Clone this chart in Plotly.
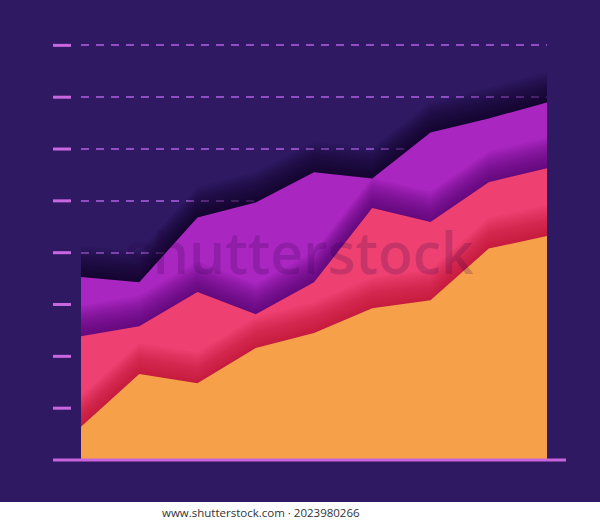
import plotly.graph_objects as go

# ---- data ----
x_points = [0, 1, 2, 3, 4, 5, 6, 7, 8]
orange_vals = [0.64, 1.66, 1.48, 2.16, 2.45, 2.93, 3.08, 4.08, 4.32]
red_vals = [1.75, 0.92, 1.76, 0.65, 0.98, 1.93, 1.51, 1.28, 1.31]
purple_vals = [1.14, 0.85, 1.44, 2.16, 2.12, 0.57, 1.73, 1.23, 1.27]
tick_levels = [1, 2, 3, 4, 5, 6, 7, 8]

BG = "#2f1963"
ORANGE = "#f6a04a"
RED = "#ee4171"
PURPLE = "#aa26c1"
GRID = "#8f4fc3"
TICK = "#c967df"

orange_top = orange_vals
red_top = [o + r for o, r in zip(orange_vals, red_vals)]
purple_top = [t + p for t, p in zip(red_top, purple_vals)]

# layout geometry (pixels)
L, R, T, B = 81, 53, 35, 62
W, H = 600, 522
YMAX = 8.2
PW = W - L - R
PH = H - T - B


def px_x(px):
    return (px - L) / PW


def px_y(py):
    return (H - B - py) / PH


fig = go.Figure()


def add_shadow(top, rgb, steps=14, step=0.042, alpha=0.07):
    for k in range(steps, 0, -1):
        fig.add_trace(go.Scatter(
            x=x_points, y=[v + k * step for v in top], mode="lines",
            line=dict(width=0), fill="tozeroy",
            fillcolor=f"rgba({rgb},{alpha})", hoverinfo="skip", showlegend=False))


def add_layer(top, color):
    fig.add_trace(go.Scatter(
        x=x_points, y=top, mode="lines", line=dict(width=0, color=color),
        fill="tozeroy", fillcolor=color, hoverinfo="skip", showlegend=False))


add_shadow(purple_top, "10,3,30")
add_layer(purple_top, PURPLE)
add_shadow(red_top, "70,0,105")
add_layer(red_top, RED)
add_shadow(orange_top, "185,10,40")
add_layer(orange_top, ORANGE)

shapes = []
for lv in tick_levels:
    shapes.append(dict(type="line", xref="paper", yref="paper",
                       x0=px_x(53), x1=px_x(71), y0=lv / YMAX, y1=lv / YMAX,
                       line=dict(color=TICK, width=3)))
shapes.append(dict(type="line", xref="paper", yref="paper",
                   x0=px_x(53), x1=px_x(566), y0=0, y1=0,
                   line=dict(color="#c764dc", width=3)))
shapes.append(dict(type="rect", xref="paper", yref="paper",
                   x0=-0.3, x1=1.3, y0=px_y(530), y1=px_y(502),
                   fillcolor="white", line=dict(width=0), layer="above"))

annotations = [
    dict(text="www.shutterstock.com · 2023980266", xref="paper", yref="paper",
         x=px_x(261), y=px_y(512), xanchor="center", yanchor="middle",
         showarrow=False, font=dict(family="Open Sans", size=11.5, color="#333333")),
    dict(text="shutterstock", xref="paper", yref="paper",
         x=px_x(299), y=px_y(252), xanchor="center", yanchor="middle",
         showarrow=False, font=dict(family="Open Sans", size=57, weight=600,
                                    color="rgba(45,0,70,0.2)")),
]

fig.update_layout(
    width=W, height=H,
    margin=dict(l=L, r=R, t=T, b=B),
    paper_bgcolor=BG, plot_bgcolor=BG,
    shapes=shapes, annotations=annotations,
    xaxis=dict(range=[0, 8], showgrid=False, zeroline=False, showticklabels=False,
               showline=False, ticks=""),
    yaxis=dict(range=[0, YMAX], tickvals=tick_levels, showgrid=True, gridcolor=GRID,
               gridwidth=2, griddash="8px,7px", zeroline=False,
               showticklabels=False, showline=False, ticks=""),
)

fig.write_html("out.html", config={"displayModeBar": False},
               post_script="document.body.style.margin='0';")
